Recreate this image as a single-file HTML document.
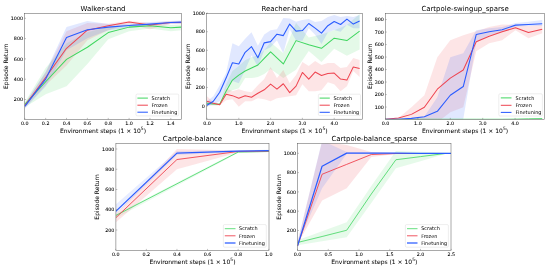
<!DOCTYPE html>
<html><head><meta charset="utf-8"><title>Episode return curves</title>
<style>
html,body{margin:0;padding:0;background:#fff;}
svg{display:block;}
text{font-family:"DejaVu Sans","Liberation Sans",sans-serif;fill:#000;text-rendering:geometricPrecision;}
.tk{font-size:4.8px;stroke:#000;stroke-width:0.07px;}
.lg{font-size:4.95px;}
.la{font-size:6px;stroke:#000;stroke-width:0.03px;}
.ti{font-size:6.95px;}
</style></head><body>
<svg width="550" height="268" viewBox="0 0 550 268">
<rect width="550" height="268" fill="#fff"/>
<clipPath id="c1"><rect x="24.60" y="13.40" width="156.80" height="105.90"/></clipPath>
<g clip-path="url(#c1)">
<polygon points="24.80,102.28 45.66,68.03 66.52,43.24 87.38,32.16 108.24,27.12 129.10,24.51 149.96,24.10 170.82,25.11 181.25,24.51 181.25,30.15 170.82,31.15 149.96,28.53 129.10,31.15 108.24,39.21 87.38,63.99 66.52,86.16 45.66,94.22 24.80,107.32" fill="#3fd65f" fill-opacity="0.14"/>
<polygon points="24.80,103.69 45.66,72.46 66.52,31.15 87.38,23.10 108.24,23.70 129.10,20.68 149.96,23.10 170.82,21.08 181.25,21.08 181.25,24.10 170.82,24.10 149.96,29.14 129.10,24.10 108.24,30.15 87.38,40.22 66.52,65.40 45.66,85.15 24.80,107.72" fill="#ee4450" fill-opacity="0.14"/>
<polygon points="24.80,103.89 45.66,71.66 66.52,27.12 87.38,21.08 108.24,24.10 129.10,23.70 149.96,22.09 170.82,20.88 181.25,20.48 181.25,23.70 170.82,24.10 149.96,26.12 129.10,27.73 108.24,30.15 87.38,38.21 66.52,50.29 45.66,86.56 24.80,108.73" fill="#2a5cff" fill-opacity="0.14"/>
<polyline points="24.80,104.29 45.66,81.73 66.52,59.36 87.38,47.27 108.24,32.56 129.10,27.12 149.96,25.71 170.82,27.73 181.25,27.12" fill="none" stroke="#3fd65f" stroke-width="1.02" stroke-linejoin="round" stroke-linecap="butt"/>
<polyline points="24.80,105.70 45.66,77.50 66.52,48.28 87.38,30.15 108.24,25.71 129.10,22.09 149.96,25.11 170.82,22.49 181.25,22.49" fill="none" stroke="#ee4450" stroke-width="1.02" stroke-linejoin="round" stroke-linecap="butt"/>
<polyline points="24.80,106.31 45.66,79.11 66.52,37.60 87.38,29.74 108.24,27.12 129.10,25.51 149.96,24.10 170.82,22.49 181.25,22.09" fill="none" stroke="#2a5cff" stroke-width="1.10" stroke-linejoin="round" stroke-linecap="butt"/>
</g>
<path d="M24.80 119.30v-1.4M45.66 119.30v-1.4M66.52 119.30v-1.4M87.38 119.30v-1.4M108.24 119.30v-1.4M129.10 119.30v-1.4M149.96 119.30v-1.4M170.82 119.30v-1.4M24.60 99.50h1.4M24.60 79.20h1.4M24.60 58.90h1.4M24.60 38.60h1.4M24.60 18.30h1.4" stroke="#666" stroke-width="0.4" fill="none"/>
<rect x="24.60" y="13.40" width="156.80" height="105.90" fill="none" stroke="#555" stroke-width="0.5"/>
<text class="tk" x="24.80" y="124.60" text-anchor="middle">0.0</text>
<text class="tk" x="45.66" y="124.60" text-anchor="middle">0.2</text>
<text class="tk" x="66.52" y="124.60" text-anchor="middle">0.4</text>
<text class="tk" x="87.38" y="124.60" text-anchor="middle">0.6</text>
<text class="tk" x="108.24" y="124.60" text-anchor="middle">0.8</text>
<text class="tk" x="129.10" y="124.60" text-anchor="middle">1.0</text>
<text class="tk" x="149.96" y="124.60" text-anchor="middle">1.2</text>
<text class="tk" x="170.82" y="124.60" text-anchor="middle">1.4</text>
<text class="tk" x="23.00" y="101.15" text-anchor="end">200</text>
<text class="tk" x="23.00" y="80.85" text-anchor="end">400</text>
<text class="tk" x="23.00" y="60.55" text-anchor="end">600</text>
<text class="tk" x="23.00" y="40.25" text-anchor="end">800</text>
<text class="tk" x="23.00" y="19.95" text-anchor="end">1000</text>
<text class="ti" x="103.00" y="11.00" text-anchor="middle">Walker-stand</text>
<text class="la" x="103.00" y="133.00" text-anchor="middle">Environment steps (1 × 10<tspan dy="-2.6" font-size="4.5">5</tspan><tspan dy="2.6">)</tspan></text>
<text class="la" transform="translate(8.00 66.35) rotate(-90)" text-anchor="middle">Episode Return</text>
<rect x="136.00" y="94.10" width="42.70" height="21.80" rx="1.2" fill="#fff" fill-opacity="0.8" stroke="#d4d4d4" stroke-opacity="0.8" stroke-width="0.5"/>
<path d="M137.40 98.10H147.90" stroke="#3fd65f" stroke-width="1.00"/>
<text class="lg" x="151.50" y="99.85">Scratch</text>
<path d="M137.40 105.20H147.90" stroke="#ee4450" stroke-width="1.00"/>
<text class="lg" x="151.50" y="106.95">Frozen</text>
<path d="M137.40 112.20H147.90" stroke="#2a5cff" stroke-width="1.05"/>
<text class="lg" x="151.50" y="113.95">Finetuning</text>
<clipPath id="c2"><rect x="206.50" y="13.40" width="156.20" height="105.80"/></clipPath>
<g clip-path="url(#c2)">
<polygon points="207.00,102.28 213.36,102.68 219.72,103.29 226.08,84.15 232.44,71.05 238.80,66.01 245.16,60.37 251.52,57.34 257.88,55.33 264.24,50.29 270.60,42.23 283.32,53.32 296.04,23.10 308.76,37.40 321.48,34.38 334.20,30.15 346.92,25.11 359.64,14.03 359.64,49.49 346.92,55.74 334.20,48.69 321.48,61.99 308.76,51.11 296.04,69.84 283.32,78.10 270.60,69.04 264.24,74.07 257.88,77.10 251.52,78.10 245.16,78.10 238.80,88.18 232.44,90.19 226.08,94.22 219.72,105.30 213.36,105.30 207.00,105.30" fill="#3fd65f" fill-opacity="0.14"/>
<polygon points="207.00,96.23 213.36,102.28 219.72,103.29 226.08,88.18 232.44,91.20 238.80,89.18 245.16,91.20 251.52,92.21 257.88,85.15 264.24,79.11 270.60,67.02 276.96,78.10 283.32,70.04 289.68,83.14 296.04,75.08 302.40,61.99 308.76,66.01 315.12,60.98 321.48,65.01 327.84,62.99 334.20,62.99 340.56,68.03 346.92,67.02 353.28,57.96 359.64,59.97 359.64,77.10 353.28,71.05 346.92,86.16 340.56,91.20 334.20,84.15 327.84,82.13 321.48,90.19 315.12,91.20 308.76,91.20 302.40,84.15 296.04,95.23 289.68,96.23 283.32,97.24 276.96,98.25 270.60,101.27 264.24,99.26 257.88,98.25 251.52,101.27 245.16,101.27 238.80,106.71 232.44,99.26 226.08,100.26 219.72,105.30 213.36,105.30 207.00,105.30" fill="#ee4450" fill-opacity="0.14"/>
<polygon points="207.00,101.27 213.36,96.23 219.72,85.15 226.08,73.07 232.44,43.24 238.80,46.26 245.16,38.81 251.52,32.16 257.88,45.86 264.24,34.38 270.60,30.15 276.96,29.14 283.32,18.06 289.68,18.46 296.04,21.68 302.40,20.07 308.76,19.07 315.12,22.09 321.48,21.08 327.84,17.05 334.20,15.04 340.56,17.05 346.92,16.04 353.28,17.05 359.64,15.04 359.64,28.33 353.28,28.33 346.92,24.71 340.56,31.76 334.20,29.95 327.84,32.56 321.48,44.05 315.12,34.78 308.76,28.33 302.40,40.82 296.04,40.42 289.68,29.14 283.32,53.32 276.96,40.22 270.60,47.27 264.24,50.29 257.88,66.41 251.52,55.33 245.16,70.04 238.80,83.14 232.44,81.12 226.08,88.18 219.72,101.27 213.36,104.29 207.00,106.31" fill="#2a5cff" fill-opacity="0.14"/>
<polyline points="207.00,103.29 213.36,103.89 219.72,104.29 226.08,91.20 232.44,80.12 238.80,75.08 245.16,71.05 251.52,68.03 257.88,65.01 264.24,58.35 270.60,51.90 283.32,63.99 296.04,40.62 308.76,44.65 321.48,48.28 334.20,38.21 346.92,40.62 359.64,31.15" fill="none" stroke="#3fd65f" stroke-width="1.02" stroke-linejoin="round" stroke-linecap="butt"/>
<polyline points="207.00,101.27 213.36,103.29 219.72,104.70 226.08,94.22 232.44,95.63 238.80,98.25 245.16,95.83 251.52,97.24 257.88,93.21 264.24,89.79 270.60,84.15 276.96,89.18 283.32,83.74 289.68,92.61 296.04,86.16 302.40,72.46 308.76,79.11 315.12,72.06 321.48,75.48 327.84,73.47 334.20,73.07 340.56,79.11 346.92,80.12 353.28,67.02 359.64,68.43" fill="none" stroke="#ee4450" stroke-width="1.02" stroke-linejoin="round" stroke-linecap="butt"/>
<polyline points="207.00,105.30 213.36,101.27 219.72,92.21 226.08,78.10 232.44,62.78 238.80,63.99 245.16,52.31 251.52,46.67 257.88,57.75 264.24,42.84 270.60,41.63 276.96,34.18 283.32,35.59 289.68,24.10 296.04,31.15 302.40,30.55 308.76,23.50 315.12,28.13 321.48,33.17 327.84,25.71 334.20,21.48 340.56,24.51 346.92,19.07 353.28,24.10 359.64,21.08" fill="none" stroke="#2a5cff" stroke-width="1.10" stroke-linejoin="round" stroke-linecap="butt"/>
</g>
<path d="M207.00 119.20v-1.4M238.80 119.20v-1.4M270.60 119.20v-1.4M302.40 119.20v-1.4M334.20 119.20v-1.4M206.50 106.00h1.4M206.50 87.43h1.4M206.50 68.86h1.4M206.50 50.29h1.4M206.50 31.72h1.4M206.50 13.15h1.4" stroke="#666" stroke-width="0.4" fill="none"/>
<rect x="206.50" y="13.40" width="156.20" height="105.80" fill="none" stroke="#555" stroke-width="0.5"/>
<text class="tk" x="207.00" y="124.50" text-anchor="middle">0.0</text>
<text class="tk" x="238.80" y="124.50" text-anchor="middle">1.0</text>
<text class="tk" x="270.60" y="124.50" text-anchor="middle">2.0</text>
<text class="tk" x="302.40" y="124.50" text-anchor="middle">3.0</text>
<text class="tk" x="334.20" y="124.50" text-anchor="middle">4.0</text>
<text class="tk" x="204.90" y="107.65" text-anchor="end">0</text>
<text class="tk" x="204.90" y="89.08" text-anchor="end">200</text>
<text class="tk" x="204.90" y="70.51" text-anchor="end">400</text>
<text class="tk" x="204.90" y="51.94" text-anchor="end">600</text>
<text class="tk" x="204.90" y="33.37" text-anchor="end">800</text>
<text class="tk" x="204.90" y="14.80" text-anchor="end">1000</text>
<text class="ti" x="284.60" y="11.00" text-anchor="middle">Reacher-hard</text>
<text class="la" x="284.60" y="132.90" text-anchor="middle">Environment steps (1 × 10<tspan dy="-2.6" font-size="4.5">5</tspan><tspan dy="2.6">)</tspan></text>
<text class="la" transform="translate(189.80 66.30) rotate(-90)" text-anchor="middle">Episode Return</text>
<rect x="318.40" y="94.20" width="42.10" height="21.40" rx="1.2" fill="#fff" fill-opacity="0.8" stroke="#d4d4d4" stroke-opacity="0.8" stroke-width="0.5"/>
<path d="M319.60 98.10H329.80" stroke="#3fd65f" stroke-width="1.00"/>
<text class="lg" x="333.40" y="99.85">Scratch</text>
<path d="M319.60 105.20H329.80" stroke="#ee4450" stroke-width="1.00"/>
<text class="lg" x="333.40" y="106.95">Frozen</text>
<path d="M319.60 112.30H329.80" stroke="#2a5cff" stroke-width="1.05"/>
<text class="lg" x="333.40" y="114.05">Finetuning</text>
<clipPath id="c3"><rect x="385.40" y="13.40" width="159.30" height="105.90"/></clipPath>
<g clip-path="url(#c3)">
<polygon points="385.50,119.30 398.46,117.99 411.42,107.32 424.38,95.23 437.34,57.34 450.30,40.22 463.26,35.18 476.22,31.15 489.18,27.12 502.14,24.51 515.50,25.11 528.46,26.12 542.22,25.11 542.22,33.17 528.46,38.21 515.50,30.15 502.14,40.22 489.18,43.24 476.22,51.30 463.26,107.32 450.30,112.35 437.34,122.30 424.38,122.30 411.42,119.30 398.46,119.30 385.50,119.30" fill="#ee4450" fill-opacity="0.14"/>
<polygon points="385.50,119.30 398.46,119.30 411.42,119.30 424.38,116.38 437.34,97.24 450.30,57.34 463.26,53.32 476.22,30.15 489.18,28.13 502.14,27.12 515.50,23.10 528.46,21.68 542.22,20.07 542.22,25.71 528.46,26.12 515.50,26.52 502.14,31.76 489.18,35.18 476.22,42.23 463.26,119.30 450.30,119.30 437.34,119.30 424.38,119.30 411.42,119.30 398.46,119.30 385.50,119.30" fill="#2a5cff" fill-opacity="0.14"/>
<polyline points="385.50,119.30 398.46,119.30 411.42,119.30 424.38,119.30 437.34,119.30 450.30,119.30 463.26,119.30 476.22,119.30 489.18,119.30 502.14,119.30 515.50,119.20 528.46,118.90 542.22,118.70" fill="none" stroke="#3fd65f" stroke-width="1.00" stroke-linejoin="round" stroke-linecap="butt"/>
<polyline points="385.50,119.30 398.46,117.99 411.42,114.37 424.38,107.32 437.34,89.18 450.30,78.10 463.26,70.04 476.22,41.83 489.18,36.19 502.14,31.76 515.50,27.73 528.46,32.56 542.22,29.14" fill="none" stroke="#ee4450" stroke-width="1.02" stroke-linejoin="round" stroke-linecap="butt"/>
<polyline points="385.50,119.30 398.46,119.30 411.42,118.40 424.38,116.78 437.34,111.34 450.30,95.23 463.26,86.56 476.22,34.58 489.18,31.76 502.14,29.74 515.50,25.11 528.46,24.51 542.22,23.70" fill="none" stroke="#2a5cff" stroke-width="1.10" stroke-linejoin="round" stroke-linecap="butt"/>
</g>
<path d="M385.50 119.30v-1.4M417.90 119.30v-1.4M450.30 119.30v-1.4M482.70 119.30v-1.4M515.10 119.30v-1.4M385.40 107.05h1.4M385.40 94.55h1.4M385.40 82.05h1.4M385.40 69.55h1.4M385.40 57.05h1.4M385.40 44.55h1.4M385.40 32.05h1.4M385.40 19.55h1.4" stroke="#666" stroke-width="0.4" fill="none"/>
<rect x="385.40" y="13.40" width="159.30" height="105.90" fill="none" stroke="#555" stroke-width="0.5"/>
<text class="tk" x="385.50" y="124.60" text-anchor="middle">0.0</text>
<text class="tk" x="417.90" y="124.60" text-anchor="middle">1.0</text>
<text class="tk" x="450.30" y="124.60" text-anchor="middle">2.0</text>
<text class="tk" x="482.70" y="124.60" text-anchor="middle">3.0</text>
<text class="tk" x="515.10" y="124.60" text-anchor="middle">4.0</text>
<text class="tk" x="383.80" y="108.70" text-anchor="end">100</text>
<text class="tk" x="383.80" y="96.20" text-anchor="end">200</text>
<text class="tk" x="383.80" y="83.70" text-anchor="end">300</text>
<text class="tk" x="383.80" y="71.20" text-anchor="end">400</text>
<text class="tk" x="383.80" y="58.70" text-anchor="end">500</text>
<text class="tk" x="383.80" y="46.20" text-anchor="end">600</text>
<text class="tk" x="383.80" y="33.70" text-anchor="end">700</text>
<text class="tk" x="383.80" y="21.20" text-anchor="end">800</text>
<text class="ti" x="465.05" y="11.00" text-anchor="middle">Cartpole-swingup_sparse</text>
<text class="la" x="465.05" y="133.00" text-anchor="middle">Environment steps (1 × 10<tspan dy="-2.6" font-size="4.5">5</tspan><tspan dy="2.6">)</tspan></text>
<text class="la" transform="translate(371.90 66.35) rotate(-90)" text-anchor="middle">Episode Return</text>
<rect x="498.80" y="93.80" width="43.60" height="22.20" rx="1.2" fill="#fff" fill-opacity="0.8" stroke="#d4d4d4" stroke-opacity="0.8" stroke-width="0.5"/>
<path d="M500.80 97.90H511.50" stroke="#3fd65f" stroke-width="1.00"/>
<text class="lg" x="515.60" y="99.65">Scratch</text>
<path d="M500.80 105.30H511.50" stroke="#ee4450" stroke-width="1.00"/>
<text class="lg" x="515.60" y="107.05">Frozen</text>
<path d="M500.80 112.40H511.50" stroke="#2a5cff" stroke-width="1.05"/>
<text class="lg" x="515.60" y="114.15">Finetuning</text>
<clipPath id="c4"><rect x="115.90" y="143.60" width="153.10" height="106.70"/></clipPath>
<g clip-path="url(#c4)">
<polygon points="115.75,214.15 176.95,182.61 238.15,151.08 268.75,150.88 268.75,152.09 238.15,153.10 176.95,185.64 115.75,218.18" fill="#3fd65f" fill-opacity="0.10"/>
<polygon points="115.75,214.15 176.95,149.07 238.15,150.48 268.75,150.27 268.75,151.89 238.15,152.49 176.95,169.21 115.75,222.61" fill="#ee4450" fill-opacity="0.14"/>
<polygon points="115.75,204.48 176.95,151.08 238.15,150.07 268.75,149.87 268.75,151.48 238.15,152.09 176.95,155.11 115.75,214.15" fill="#2a5cff" fill-opacity="0.11"/>
<polyline points="115.75,215.50 176.95,183.79 238.15,152.09 268.75,151.48" fill="none" stroke="#3fd65f" stroke-width="0.80" stroke-linejoin="round" stroke-linecap="butt"/>
<polyline points="115.75,217.80 176.95,159.54 238.15,151.48 268.75,151.08" fill="none" stroke="#ee4450" stroke-width="0.90" stroke-linejoin="round" stroke-linecap="butt"/>
<polyline points="115.75,211.40 176.95,153.10 238.15,151.08 268.75,150.68" fill="none" stroke="#2a5cff" stroke-width="1.25" stroke-linejoin="round" stroke-linecap="butt"/>
</g>
<path d="M115.75 250.30v-1.4M146.35 250.30v-1.4M176.95 250.30v-1.4M207.55 250.30v-1.4M238.15 250.30v-1.4M268.75 250.30v-1.4M115.90 230.00h1.4M115.90 209.75h1.4M115.90 189.50h1.4M115.90 169.25h1.4M115.90 149.00h1.4" stroke="#666" stroke-width="0.4" fill="none"/>
<rect x="115.90" y="143.60" width="153.10" height="106.70" fill="none" stroke="#555" stroke-width="0.5"/>
<text class="tk" x="115.75" y="255.60" text-anchor="middle">0.0</text>
<text class="tk" x="146.35" y="255.60" text-anchor="middle">0.2</text>
<text class="tk" x="176.95" y="255.60" text-anchor="middle">0.4</text>
<text class="tk" x="207.55" y="255.60" text-anchor="middle">0.6</text>
<text class="tk" x="238.15" y="255.60" text-anchor="middle">0.8</text>
<text class="tk" x="268.75" y="255.60" text-anchor="middle">1.0</text>
<text class="tk" x="114.30" y="231.65" text-anchor="end">200</text>
<text class="tk" x="114.30" y="211.40" text-anchor="end">400</text>
<text class="tk" x="114.30" y="191.15" text-anchor="end">600</text>
<text class="tk" x="114.30" y="170.90" text-anchor="end">800</text>
<text class="tk" x="114.30" y="150.65" text-anchor="end">1000</text>
<text class="ti" x="192.45" y="141.20" text-anchor="middle">Cartpole-balance</text>
<text class="la" x="192.45" y="264.00" text-anchor="middle">Environment steps (1 × 10<tspan dy="-2.6" font-size="4.5">5</tspan><tspan dy="2.6">)</tspan></text>
<text class="la" transform="translate(99.40 196.95) rotate(-90)" text-anchor="middle">Episode Return</text>
<rect x="223.40" y="224.60" width="42.90" height="22.60" rx="1.2" fill="#fff" fill-opacity="0.8" stroke="#d4d4d4" stroke-opacity="0.8" stroke-width="0.5"/>
<path d="M224.80 228.70H235.50" stroke="#3fd65f" stroke-width="0.80"/>
<text class="lg" x="239.00" y="230.45">Scratch</text>
<path d="M224.80 235.80H235.50" stroke="#ee4450" stroke-width="0.90"/>
<text class="lg" x="239.00" y="237.55">Frozen</text>
<path d="M224.80 243.00H235.50" stroke="#2a5cff" stroke-width="1.25"/>
<text class="lg" x="239.00" y="244.75">Finetuning</text>
<clipPath id="c5"><rect x="297.60" y="143.60" width="153.40" height="106.70"/></clipPath>
<g clip-path="url(#c5)">
<polygon points="297.50,240.34 322.10,231.27 346.70,222.21 371.30,185.94 395.90,151.08 420.50,151.68 445.10,152.49 451.25,152.69 451.25,154.10 445.10,154.10 420.50,161.15 395.90,168.21 371.30,203.07 346.70,237.32 322.10,241.34 297.50,245.37" fill="#3fd65f" fill-opacity="0.13"/>
<polygon points="297.50,242.35 322.10,141.50 346.70,145.04 371.30,152.09 395.90,152.89 420.50,153.10 445.10,153.10 451.25,153.10 451.25,153.90 445.10,153.90 420.50,153.90 395.90,154.10 371.30,157.12 346.70,188.35 322.10,200.45 297.50,244.37" fill="#ee4450" fill-opacity="0.15"/>
<polygon points="297.50,242.35 322.10,140.50 346.70,152.09 371.30,152.49 395.90,152.69 420.50,152.89 445.10,153.10 451.25,153.10 451.25,153.90 445.10,153.70 420.50,153.70 395.90,153.70 371.30,153.70 346.70,153.70 322.10,188.35 297.50,244.37" fill="#2a5cff" fill-opacity="0.13"/>
<polyline points="297.50,242.50 322.10,236.51 346.70,230.26 371.30,194.00 395.90,159.74 420.50,156.62 445.10,153.50 451.25,153.50" fill="none" stroke="#3fd65f" stroke-width="0.80" stroke-linejoin="round" stroke-linecap="butt"/>
<polyline points="297.50,246.00 322.10,174.25 346.70,164.38 371.30,154.51 395.90,153.50 420.50,153.50 445.10,153.50 451.25,153.50" fill="none" stroke="#ee4450" stroke-width="0.90" stroke-linejoin="round" stroke-linecap="butt"/>
<polyline points="297.50,246.00 322.10,166.19 346.70,153.10 371.30,153.10 395.90,153.20 420.50,153.30 445.10,153.40 451.25,153.50" fill="none" stroke="#2a5cff" stroke-width="1.25" stroke-linejoin="round" stroke-linecap="butt"/>
</g>
<path d="M297.50 250.30v-1.4M328.25 250.30v-1.4M359.00 250.30v-1.4M389.75 250.30v-1.4M420.50 250.30v-1.4M451.25 250.30v-1.4M297.60 230.50h1.4M297.60 211.20h1.4M297.60 191.90h1.4M297.60 172.60h1.4M297.60 153.30h1.4" stroke="#666" stroke-width="0.4" fill="none"/>
<rect x="297.60" y="143.60" width="153.40" height="106.70" fill="none" stroke="#555" stroke-width="0.5"/>
<text class="tk" x="297.50" y="255.60" text-anchor="middle">0.0</text>
<text class="tk" x="328.25" y="255.60" text-anchor="middle">0.5</text>
<text class="tk" x="359.00" y="255.60" text-anchor="middle">1.0</text>
<text class="tk" x="389.75" y="255.60" text-anchor="middle">1.5</text>
<text class="tk" x="420.50" y="255.60" text-anchor="middle">2.0</text>
<text class="tk" x="451.25" y="255.60" text-anchor="middle">2.5</text>
<text class="tk" x="296.00" y="232.15" text-anchor="end">200</text>
<text class="tk" x="296.00" y="212.85" text-anchor="end">400</text>
<text class="tk" x="296.00" y="193.55" text-anchor="end">600</text>
<text class="tk" x="296.00" y="174.25" text-anchor="end">800</text>
<text class="tk" x="296.00" y="154.95" text-anchor="end">1000</text>
<text class="ti" x="374.30" y="141.20" text-anchor="middle">Cartpole-balance_sparse</text>
<text class="la" x="374.30" y="264.00" text-anchor="middle">Environment steps (1 × 10<tspan dy="-2.6" font-size="4.5">5</tspan><tspan dy="2.6">)</tspan></text>
<text class="la" transform="translate(281.00 196.95) rotate(-90)" text-anchor="middle">Episode Return</text>
<rect x="405.40" y="224.60" width="43.00" height="22.60" rx="1.2" fill="#fff" fill-opacity="0.8" stroke="#d4d4d4" stroke-opacity="0.8" stroke-width="0.5"/>
<path d="M407.00 228.70H417.50" stroke="#3fd65f" stroke-width="0.80"/>
<text class="lg" x="421.20" y="230.45">Scratch</text>
<path d="M407.00 235.80H417.50" stroke="#ee4450" stroke-width="0.90"/>
<text class="lg" x="421.20" y="237.55">Frozen</text>
<path d="M407.00 243.00H417.50" stroke="#2a5cff" stroke-width="1.25"/>
<text class="lg" x="421.20" y="244.75">Finetuning</text>
</svg>
</body></html>
